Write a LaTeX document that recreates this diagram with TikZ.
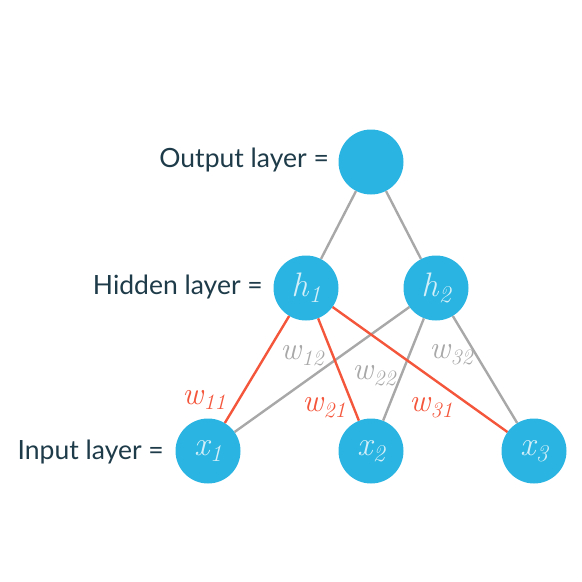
\documentclass[tikz,border=0pt]{standalone}
\usepackage{fontspec}
\setsansfont{Lato}
\usepackage{graphicx}
\definecolor{nodeblue}{HTML}{29B4E2}
\definecolor{labtext}{HTML}{1E3B49}
\definecolor{redline}{HTML}{F4563C}
\definecolor{grayline}{HTML}{A8A8A8}
\definecolor{inlabel}{HTML}{D2EEF8}
\newcommand{\wsub}[3]{\textit{#1\kern0.5pt\raisebox{-0.18em}{\fontsize{#3}{#3}\selectfont\itshape #2}}}
\begin{document}
\begin{tikzpicture}[x=1pt,y=-1pt,
  neuron/.style={circle,fill=nodeblue,minimum size=65pt,inner sep=0pt,text=inlabel,font=\fontsize{34}{34}\selectfont},
  layerlab/.style={anchor=east,text=labtext,font=\sffamily\fontsize{26.5}{26.5}\selectfont,inner sep=0pt},
  redw/.style={draw=redline,line width=2.4pt},
  grayw/.style={draw=grayline,line width=2.4pt},
  wlab/.style={font=\fontsize{32}{32}\selectfont,inner sep=0pt}]
\useasboundingbox (0,0) rectangle (582,582);
\node[neuron] (out) at (371,162) {};
\node[neuron] (h1) at (306,288) {\wsub{h}{1}{24}};
\node[neuron] (h2) at (436,288) {\wsub{h}{2}{24}};
\node[neuron] (x1) at (208,451) {\wsub{x}{1}{24}};
\node[neuron] (x2) at (371,451) {\wsub{x}{2}{24}};
\node[neuron] (x3) at (534,451) {\wsub{x}{3}{24}};
\draw[grayw] (out) -- (h1);
\draw[grayw] (out) -- (h2);
\draw[grayw] (h2) -- (x1);
\draw[grayw] (h2) -- (x2);
\draw[grayw] (h2) -- (x3);
\draw[redw] (h1) -- (x1);
\draw[redw] (h1) -- (x2);
\draw[redw] (h1) -- (x3);
\node[layerlab] (lo) at (329,160) {Output layer =};
\node[layerlab] (lh) at (263,287) {Hidden layer =};
\node[layerlab] (li) at (164,452) {Input layer =};
\node[wlab,text=redline] (w11) at (204,400) {\wsub{w}{11}{22}};
\node[wlab,text=grayline] (w12) at (302,356) {\wsub{w}{12}{22}};
\node[wlab,text=redline] (w21) at (324,408) {\wsub{w}{21}{22}};
\node[wlab,text=grayline] (w22) at (374,376) {\wsub{w}{22}{22}};
\node[wlab,text=redline] (w31) at (431,408) {\wsub{w}{31}{22}};
\node[wlab,text=grayline] (w32) at (451,355) {\wsub{w}{32}{22}};
\end{tikzpicture}
\end{document}
